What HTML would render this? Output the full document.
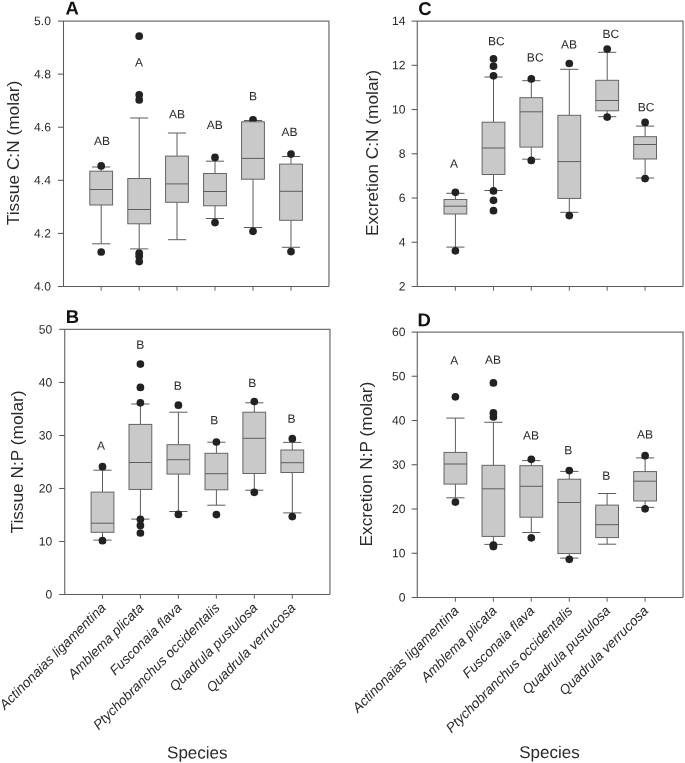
<!DOCTYPE html>
<html lang="en"><head><meta charset="utf-8"><title>Mussel stoichiometry box plots</title>
<style>
html,body{margin:0;padding:0;background:#fff;}
body{width:685px;height:763px;overflow:hidden;}
svg{display:block;font-family:"Liberation Sans",Arial,Helvetica,sans-serif;}
.tick{font-size:12.1px;fill:#2a2a2a;}
.let{font-size:12.0px;fill:#2a2a2a;}
.yt{font-size:17.3px;fill:#2a2a2a;}
.xt{font-size:17.0px;fill:#2a2a2a;}
.sp{font-size:13.6px;font-style:italic;fill:#2a2a2a;}
.pl{font-size:18.5px;font-weight:bold;fill:#111111;}
.ax{stroke:#5a5a5a;stroke-width:1.05;fill:none;}
.xtk{stroke:#707070;stroke-width:1.1;fill:none;}
.fr{stroke:#707070;stroke-width:1.25;fill:none;}
.wh{stroke:#5c5c5c;stroke-width:1;fill:none;}
.bx{stroke:#5e5e5e;stroke-width:0.95;fill:#c9c9c9;}
.md{stroke:#5e5e5e;stroke-width:1;fill:none;}
.dot{fill:#222222;}
</style></head><body>
<svg width="685" height="763" viewBox="0 0 685 763">
<rect x="0" y="0" width="685" height="763" fill="#ffffff"/>
<g id="panel-A">
<path class="fr" d="M57.9 21.05 H328.95 V286.5"/>
<path class="ax" d="M63.5 21.05 V286.5 H328.95"/>
<text class="tick" text-anchor="end" transform="translate(50.9 25.1) rotate(0.1)">5.0</text>
<path class="ax" d="M57.9 74.14 H63.5"/>
<text class="tick" text-anchor="end" transform="translate(50.9 78.19) rotate(0.1)">4.8</text>
<path class="ax" d="M57.9 127.23 H63.5"/>
<text class="tick" text-anchor="end" transform="translate(50.9 131.28) rotate(0.1)">4.6</text>
<path class="ax" d="M57.9 180.32 H63.5"/>
<text class="tick" text-anchor="end" transform="translate(50.9 184.37) rotate(0.1)">4.4</text>
<path class="ax" d="M57.9 233.41 H63.5"/>
<text class="tick" text-anchor="end" transform="translate(50.9 237.46) rotate(0.1)">4.2</text>
<path class="ax" d="M57.9 286.5 H63.5"/>
<text class="tick" text-anchor="end" transform="translate(50.9 290.55) rotate(0.1)">4.0</text>
<path class="xtk" d="M101.2 286.5 V290.8"/>
<path class="xtk" d="M139.2 286.5 V290.8"/>
<path class="xtk" d="M177 286.5 V290.8"/>
<path class="xtk" d="M215 286.5 V290.8"/>
<path class="xtk" d="M253 286.5 V290.8"/>
<path class="xtk" d="M291 286.5 V290.8"/>
<text class="yt" text-anchor="middle" transform="translate(18.7 153) rotate(-90)">Tissue C:N (molar)</text>
<text class="pl" transform="translate(65.5 14.6) rotate(0.1)">A</text>
<path class="wh" d="M101.2 167 V171.2 M101.2 205 V243.8 M92.1 167 H110.3 M92.1 243.8 H110.3"/>
<path class="wh" d="M139.2 118 V178.5 M139.2 223.8 V248.9 M130.1 118 H148.3 M130.1 248.9 H148.3"/>
<path class="wh" d="M177 133 V156.1 M177 202.3 V239.7 M167.9 133 H186.1 M167.9 239.7 H186.1"/>
<path class="wh" d="M215 161.2 V173.5 M215 205.8 V218.5 M205.9 161.2 H224.1 M205.9 218.5 H224.1"/>
<path class="wh" d="M253 120.5 V121.8 M253 179.2 V227.5 M243.9 120.5 H262.1 M243.9 227.5 H262.1"/>
<path class="wh" d="M291 156.5 V164.1 M291 220.3 V247.3 M281.9 156.5 H300.1 M281.9 247.3 H300.1"/>
<circle class="dot" cx="101.2" cy="165.9" r="3.85"/>
<circle class="dot" cx="101.2" cy="252" r="3.85"/>
<circle class="dot" cx="139.2" cy="36.2" r="3.85"/>
<circle class="dot" cx="139.2" cy="94.8" r="3.85"/>
<circle class="dot" cx="139.2" cy="99.9" r="3.85"/>
<circle class="dot" cx="139.2" cy="253.2" r="3.85"/>
<circle class="dot" cx="139.2" cy="256.3" r="3.85"/>
<circle class="dot" cx="139.2" cy="261.6" r="3.85"/>
<circle class="dot" cx="215" cy="157.4" r="3.85"/>
<circle class="dot" cx="215" cy="222.6" r="3.85"/>
<circle class="dot" cx="253" cy="119.8" r="3.85"/>
<circle class="dot" cx="253" cy="231.3" r="3.85"/>
<circle class="dot" cx="291" cy="154.1" r="3.85"/>
<circle class="dot" cx="291" cy="251.6" r="3.85"/>
<rect class="bx" x="89.8" y="171.2" width="22.8" height="33.8"/>
<path class="md" d="M89.8 189.5 H112.6"/>
<rect class="bx" x="127.8" y="178.5" width="22.8" height="45.3"/>
<path class="md" d="M127.8 209.5 H150.6"/>
<rect class="bx" x="165.6" y="156.1" width="22.8" height="46.2"/>
<path class="md" d="M165.6 183.9 H188.4"/>
<rect class="bx" x="203.6" y="173.5" width="22.8" height="32.3"/>
<path class="md" d="M203.6 191.5 H226.4"/>
<rect class="bx" x="241.6" y="121.8" width="22.8" height="57.4"/>
<path class="md" d="M241.6 158.4 H264.4"/>
<rect class="bx" x="279.6" y="164.1" width="22.8" height="56.2"/>
<path class="md" d="M279.6 191.3 H302.4"/>
<text class="let" text-anchor="middle" transform="translate(101.9 144.9) rotate(0.1)">AB</text>
<text class="let" text-anchor="middle" transform="translate(139.1 66.6) rotate(0.1)">A</text>
<text class="let" text-anchor="middle" transform="translate(177.1 118.3) rotate(0.1)">AB</text>
<text class="let" text-anchor="middle" transform="translate(214.8 129.1) rotate(0.1)">AB</text>
<text class="let" text-anchor="middle" transform="translate(253 100.3) rotate(0.1)">B</text>
<text class="let" text-anchor="middle" transform="translate(289.6 136.1) rotate(0.1)">AB</text>
</g>
<g id="panel-C">
<path class="fr" d="M411.65 21.05 H683.05 V286.5"/>
<path class="ax" d="M417.25 21.05 V286.5 H683.05"/>
<text class="tick" text-anchor="end" transform="translate(405.5 25.1) rotate(0.1)">14</text>
<path class="ax" d="M411.65 65.29 H417.25"/>
<text class="tick" text-anchor="end" transform="translate(405.5 69.34) rotate(0.1)">12</text>
<path class="ax" d="M411.65 109.53 H417.25"/>
<text class="tick" text-anchor="end" transform="translate(405.5 113.58) rotate(0.1)">10</text>
<path class="ax" d="M411.65 153.78 H417.25"/>
<text class="tick" text-anchor="end" transform="translate(405.5 157.83) rotate(0.1)">8</text>
<path class="ax" d="M411.65 198.02 H417.25"/>
<text class="tick" text-anchor="end" transform="translate(405.5 202.07) rotate(0.1)">6</text>
<path class="ax" d="M411.65 242.26 H417.25"/>
<text class="tick" text-anchor="end" transform="translate(405.5 246.31) rotate(0.1)">4</text>
<path class="ax" d="M411.65 286.5 H417.25"/>
<text class="tick" text-anchor="end" transform="translate(405.5 290.55) rotate(0.1)">2</text>
<path class="xtk" d="M455.4 286.5 V290.8"/>
<path class="xtk" d="M493.5 286.5 V290.8"/>
<path class="xtk" d="M531.3 286.5 V290.8"/>
<path class="xtk" d="M569.3 286.5 V290.8"/>
<path class="xtk" d="M607.2 286.5 V290.8"/>
<path class="xtk" d="M645.1 286.5 V290.8"/>
<text class="yt" text-anchor="middle" transform="translate(377.5 153) rotate(-90)">Excretion C:N (molar)</text>
<text class="pl" transform="translate(418.3 14.9) rotate(0.1)">C</text>
<path class="wh" d="M455.4 193.3 V199.5 M455.4 214 V247.1 M446.3 193.3 H464.5 M446.3 247.1 H464.5"/>
<path class="wh" d="M493.5 77 V122.2 M493.5 174.5 V190.5 M484.4 77 H502.6 M484.4 190.5 H502.6"/>
<path class="wh" d="M531.3 80.7 V97.7 M531.3 147.1 V159.2 M522.2 80.7 H540.4 M522.2 159.2 H540.4"/>
<path class="wh" d="M569.3 69.3 V115.3 M569.3 198.4 V212.3 M560.2 69.3 H578.4 M560.2 212.3 H578.4"/>
<path class="wh" d="M607.2 52.3 V80.3 M607.2 110.8 V116.7 M598.1 52.3 H616.3 M598.1 116.7 H616.3"/>
<path class="wh" d="M645.1 126.1 V136.7 M645.1 159 V178 M636 126.1 H654.2 M636 178 H654.2"/>
<circle class="dot" cx="455.4" cy="192.3" r="3.85"/>
<circle class="dot" cx="455.4" cy="250.8" r="3.85"/>
<circle class="dot" cx="493.5" cy="58.8" r="3.85"/>
<circle class="dot" cx="493.5" cy="66.2" r="3.85"/>
<circle class="dot" cx="493.5" cy="75.8" r="3.85"/>
<circle class="dot" cx="493.5" cy="190.9" r="3.85"/>
<circle class="dot" cx="493.5" cy="200.3" r="3.85"/>
<circle class="dot" cx="493.5" cy="210.7" r="3.85"/>
<circle class="dot" cx="531.3" cy="78.9" r="3.85"/>
<circle class="dot" cx="531.3" cy="160.4" r="3.85"/>
<circle class="dot" cx="569.3" cy="63.5" r="3.85"/>
<circle class="dot" cx="569.3" cy="215.6" r="3.85"/>
<circle class="dot" cx="607.2" cy="49" r="3.85"/>
<circle class="dot" cx="607.2" cy="117.1" r="3.85"/>
<circle class="dot" cx="645.1" cy="122.4" r="3.85"/>
<circle class="dot" cx="645.1" cy="178.6" r="3.85"/>
<rect class="bx" x="444" y="199.5" width="22.8" height="14.5"/>
<path class="md" d="M444 206.2 H466.8"/>
<rect class="bx" x="482.1" y="122.2" width="22.8" height="52.3"/>
<path class="md" d="M482.1 148 H504.9"/>
<rect class="bx" x="519.9" y="97.7" width="22.8" height="49.4"/>
<path class="md" d="M519.9 111.8 H542.7"/>
<rect class="bx" x="557.9" y="115.3" width="22.8" height="83.1"/>
<path class="md" d="M557.9 161.6 H580.7"/>
<rect class="bx" x="595.8" y="80.3" width="22.8" height="30.5"/>
<path class="md" d="M595.8 100.5 H618.6"/>
<rect class="bx" x="633.7" y="136.7" width="22.8" height="22.3"/>
<path class="md" d="M633.7 144.5 H656.5"/>
<text class="let" text-anchor="middle" transform="translate(454 167.8) rotate(0.1)">A</text>
<text class="let" text-anchor="middle" transform="translate(496.3 45.2) rotate(0.1)">BC</text>
<text class="let" text-anchor="middle" transform="translate(535.2 61.5) rotate(0.1)">BC</text>
<text class="let" text-anchor="middle" transform="translate(568.9 48.6) rotate(0.1)">AB</text>
<text class="let" text-anchor="middle" transform="translate(610.8 37.9) rotate(0.1)">BC</text>
<text class="let" text-anchor="middle" transform="translate(646 111.2) rotate(0.1)">BC</text>
</g>
<g id="panel-B">
<path class="fr" d="M59.15 329.45 H329.95 V594.5"/>
<path class="ax" d="M64.75 329.45 V594.5 H329.95"/>
<text class="tick" text-anchor="end" transform="translate(52.3 333.5) rotate(0.1)">50</text>
<path class="ax" d="M59.15 382.46 H64.75"/>
<text class="tick" text-anchor="end" transform="translate(52.3 386.51) rotate(0.1)">40</text>
<path class="ax" d="M59.15 435.47 H64.75"/>
<text class="tick" text-anchor="end" transform="translate(52.3 439.52) rotate(0.1)">30</text>
<path class="ax" d="M59.15 488.48 H64.75"/>
<text class="tick" text-anchor="end" transform="translate(52.3 492.53) rotate(0.1)">20</text>
<path class="ax" d="M59.15 541.49 H64.75"/>
<text class="tick" text-anchor="end" transform="translate(52.3 545.54) rotate(0.1)">10</text>
<path class="ax" d="M59.15 594.5 H64.75"/>
<text class="tick" text-anchor="end" transform="translate(52.3 598.55) rotate(0.1)">0</text>
<path class="xtk" d="M102.5 594.5 V598.8"/>
<path class="xtk" d="M140.4 594.5 V598.8"/>
<path class="xtk" d="M178.4 594.5 V598.8"/>
<path class="xtk" d="M216.4 594.5 V598.8"/>
<path class="xtk" d="M254.3 594.5 V598.8"/>
<path class="xtk" d="M292.3 594.5 V598.8"/>
<text class="yt" text-anchor="middle" transform="translate(23.4 462) rotate(-90)">Tissue N:P (molar)</text>
<text class="pl" transform="translate(65.8 323.1) rotate(0.1)">B</text>
<path class="wh" d="M102.5 470.2 V492.1 M102.5 532.3 V540.1 M93.4 470.2 H111.6 M93.4 540.1 H111.6"/>
<path class="wh" d="M140.4 404 V424.4 M140.4 489.4 V519.1 M131.3 404 H149.5 M131.3 519.1 H149.5"/>
<path class="wh" d="M178.4 412.2 V444.7 M178.4 474.1 V511.5 M169.3 412.2 H187.5 M169.3 511.5 H187.5"/>
<path class="wh" d="M216.4 442.2 V453.3 M216.4 489.8 V505.2 M207.3 442.2 H225.5 M207.3 505.2 H225.5"/>
<path class="wh" d="M254.3 402.8 V412.2 M254.3 473.5 V490.2 M245.2 402.8 H263.4 M245.2 490.2 H263.4"/>
<path class="wh" d="M292.3 442.4 V450 M292.3 472.5 V512.9 M283.2 442.4 H301.4 M283.2 512.9 H301.4"/>
<circle class="dot" cx="102.5" cy="466.7" r="3.85"/>
<circle class="dot" cx="102.5" cy="540.7" r="3.85"/>
<circle class="dot" cx="140.4" cy="364.1" r="3.85"/>
<circle class="dot" cx="140.4" cy="387.4" r="3.85"/>
<circle class="dot" cx="140.4" cy="402.8" r="3.85"/>
<circle class="dot" cx="140.4" cy="519.3" r="3.85"/>
<circle class="dot" cx="140.4" cy="525.4" r="3.85"/>
<circle class="dot" cx="140.4" cy="533" r="3.85"/>
<circle class="dot" cx="178.4" cy="405.2" r="3.85"/>
<circle class="dot" cx="178.4" cy="514.4" r="3.85"/>
<circle class="dot" cx="216.4" cy="442" r="3.85"/>
<circle class="dot" cx="216.4" cy="514.6" r="3.85"/>
<circle class="dot" cx="254.3" cy="401.5" r="3.85"/>
<circle class="dot" cx="254.3" cy="492.3" r="3.85"/>
<circle class="dot" cx="292.3" cy="438.7" r="3.85"/>
<circle class="dot" cx="292.3" cy="516.6" r="3.85"/>
<rect class="bx" x="91.1" y="492.1" width="22.8" height="40.2"/>
<path class="md" d="M91.1 523.2 H113.9"/>
<rect class="bx" x="129" y="424.4" width="22.8" height="65"/>
<path class="md" d="M129 462.5 H151.8"/>
<rect class="bx" x="167" y="444.7" width="22.8" height="29.4"/>
<path class="md" d="M167 459.7 H189.8"/>
<rect class="bx" x="205" y="453.3" width="22.8" height="36.5"/>
<path class="md" d="M205 473.7 H227.8"/>
<rect class="bx" x="242.9" y="412.2" width="22.8" height="61.3"/>
<path class="md" d="M242.9 438.3 H265.7"/>
<rect class="bx" x="280.9" y="450" width="22.8" height="22.5"/>
<path class="md" d="M280.9 462.7 H303.7"/>
<text class="let" text-anchor="middle" transform="translate(100.9 449.8) rotate(0.1)">A</text>
<text class="let" text-anchor="middle" transform="translate(140.3 348.8) rotate(0.1)">B</text>
<text class="let" text-anchor="middle" transform="translate(177.7 389.7) rotate(0.1)">B</text>
<text class="let" text-anchor="middle" transform="translate(214.2 424.2) rotate(0.1)">B</text>
<text class="let" text-anchor="middle" transform="translate(252.2 387) rotate(0.1)">B</text>
<text class="let" text-anchor="middle" transform="translate(291.5 422.8) rotate(0.1)">B</text>
<text class="sp" text-anchor="end" transform="translate(106.6 608.6) rotate(-45)">Actinonaias ligamentina</text>
<text class="sp" text-anchor="end" transform="translate(144.5 608.6) rotate(-45)">Amblema plicata</text>
<text class="sp" text-anchor="end" transform="translate(182.5 608.6) rotate(-45)">Fusconaia flava</text>
<text class="sp" text-anchor="end" transform="translate(220.5 608.6) rotate(-45)">Ptychobranchus occidentalis</text>
<text class="sp" text-anchor="end" transform="translate(258.4 608.6) rotate(-45)">Quadrula pustulosa</text>
<text class="sp" text-anchor="end" transform="translate(296.4 608.6) rotate(-45)">Quadrula verrucosa</text>
<text class="xt" text-anchor="middle" transform="translate(197.3 758.4) rotate(0.1)">Species</text>
</g>
<g id="panel-D">
<path class="fr" d="M411.65 332 H683.05 V597.5"/>
<path class="ax" d="M417.25 332 V597.5 H683.05"/>
<text class="tick" text-anchor="end" transform="translate(405.5 336.05) rotate(0.1)">60</text>
<path class="ax" d="M411.65 376.25 H417.25"/>
<text class="tick" text-anchor="end" transform="translate(405.5 380.3) rotate(0.1)">50</text>
<path class="ax" d="M411.65 420.5 H417.25"/>
<text class="tick" text-anchor="end" transform="translate(405.5 424.55) rotate(0.1)">40</text>
<path class="ax" d="M411.65 464.75 H417.25"/>
<text class="tick" text-anchor="end" transform="translate(405.5 468.8) rotate(0.1)">30</text>
<path class="ax" d="M411.65 509 H417.25"/>
<text class="tick" text-anchor="end" transform="translate(405.5 513.05) rotate(0.1)">20</text>
<path class="ax" d="M411.65 553.25 H417.25"/>
<text class="tick" text-anchor="end" transform="translate(405.5 557.3) rotate(0.1)">10</text>
<path class="ax" d="M411.65 597.5 H417.25"/>
<text class="tick" text-anchor="end" transform="translate(405.5 601.55) rotate(0.1)">0</text>
<path class="xtk" d="M455.4 597.5 V601.8"/>
<path class="xtk" d="M493.4 597.5 V601.8"/>
<path class="xtk" d="M531.3 597.5 V601.8"/>
<path class="xtk" d="M569.3 597.5 V601.8"/>
<path class="xtk" d="M607.1 597.5 V601.8"/>
<path class="xtk" d="M645.1 597.5 V601.8"/>
<text class="yt" text-anchor="middle" transform="translate(372.1 464.1) rotate(-90)">Excretion N:P (molar)</text>
<text class="pl" transform="translate(417.6 326.3) rotate(0.1)">D</text>
<path class="wh" d="M455.4 418.1 V452.4 M455.4 484.1 V497.8 M446.3 418.1 H464.5 M446.3 497.8 H464.5"/>
<path class="wh" d="M493.4 422.3 V465.3 M493.4 536.4 V544.4 M484.3 422.3 H502.5 M484.3 544.4 H502.5"/>
<path class="wh" d="M531.3 460.6 V465.7 M531.3 517.2 V532.5 M522.2 460.6 H540.4 M522.2 532.5 H540.4"/>
<path class="wh" d="M569.3 471.4 V479.2 M569.3 553.6 V558.1 M560.2 471.4 H578.4 M560.2 558.1 H578.4"/>
<path class="wh" d="M607.1 493.5 V505.1 M607.1 537.6 V544.2 M598 493.5 H616.2 M598 544.2 H616.2"/>
<path class="wh" d="M645.1 457.9 V471.6 M645.1 501 V507.4 M636 457.9 H654.2 M636 507.4 H654.2"/>
<circle class="dot" cx="455.4" cy="396.8" r="3.85"/>
<circle class="dot" cx="455.4" cy="502.1" r="3.85"/>
<circle class="dot" cx="493.4" cy="382.9" r="3.85"/>
<circle class="dot" cx="493.4" cy="412.9" r="3.85"/>
<circle class="dot" cx="493.4" cy="417" r="3.85"/>
<circle class="dot" cx="493.4" cy="545.2" r="3.85"/>
<circle class="dot" cx="493.4" cy="546.6" r="3.85"/>
<circle class="dot" cx="531.3" cy="459.3" r="3.85"/>
<circle class="dot" cx="531.3" cy="537.8" r="3.85"/>
<circle class="dot" cx="569.3" cy="470.6" r="3.85"/>
<circle class="dot" cx="569.3" cy="559.3" r="3.85"/>
<circle class="dot" cx="645.1" cy="455.7" r="3.85"/>
<circle class="dot" cx="645.1" cy="508.8" r="3.85"/>
<rect class="bx" x="444" y="452.4" width="22.8" height="31.7"/>
<path class="md" d="M444 464 H466.8"/>
<rect class="bx" x="482" y="465.3" width="22.8" height="71.1"/>
<path class="md" d="M482 488.8 H504.8"/>
<rect class="bx" x="519.9" y="465.7" width="22.8" height="51.5"/>
<path class="md" d="M519.9 486.3 H542.7"/>
<rect class="bx" x="557.9" y="479.2" width="22.8" height="74.4"/>
<path class="md" d="M557.9 502.5 H580.7"/>
<rect class="bx" x="595.7" y="505.1" width="22.8" height="32.5"/>
<path class="md" d="M595.7 524.7 H618.5"/>
<rect class="bx" x="633.7" y="471.6" width="22.8" height="29.4"/>
<path class="md" d="M633.7 481.2 H656.5"/>
<text class="let" text-anchor="middle" transform="translate(454.2 364.5) rotate(0.1)">A</text>
<text class="let" text-anchor="middle" transform="translate(493.1 363.7) rotate(0.1)">AB</text>
<text class="let" text-anchor="middle" transform="translate(530.9 439.5) rotate(0.1)">AB</text>
<text class="let" text-anchor="middle" transform="translate(568.3 454.2) rotate(0.1)">B</text>
<text class="let" text-anchor="middle" transform="translate(606.3 479.8) rotate(0.1)">B</text>
<text class="let" text-anchor="middle" transform="translate(645.1 438.5) rotate(0.1)">AB</text>
<text class="sp" text-anchor="end" transform="translate(459.5 611.6) rotate(-45)">Actinonaias ligamentina</text>
<text class="sp" text-anchor="end" transform="translate(497.5 611.6) rotate(-45)">Amblema plicata</text>
<text class="sp" text-anchor="end" transform="translate(535.4 611.6) rotate(-45)">Fusconaia flava</text>
<text class="sp" text-anchor="end" transform="translate(573.4 611.6) rotate(-45)">Ptychobranchus occidentalis</text>
<text class="sp" text-anchor="end" transform="translate(611.2 611.6) rotate(-45)">Quadrula pustulosa</text>
<text class="sp" text-anchor="end" transform="translate(649.2 611.6) rotate(-45)">Quadrula verrucosa</text>
<text class="xt" text-anchor="middle" transform="translate(549.5 758) rotate(0.1)">Species</text>
</g>
</svg>
</body></html>
